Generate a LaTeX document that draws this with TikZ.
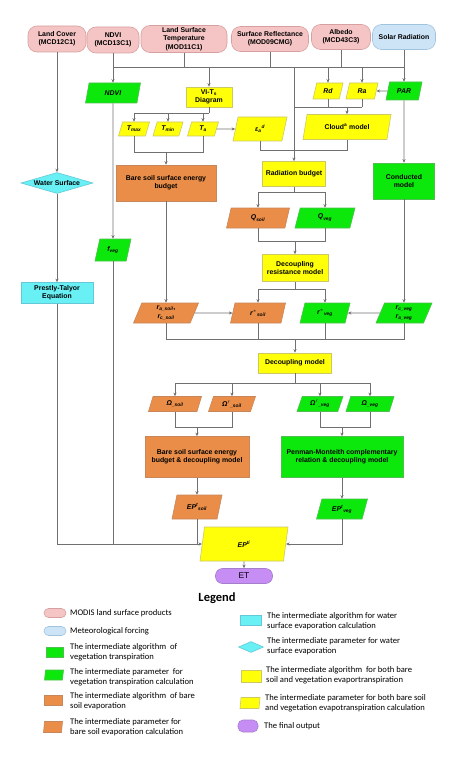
\documentclass[tikz,border=0pt]{standalone}
\usepackage{fontspec}
\usepackage{amsmath}
\setmainfont{Liberation Sans}
\newfontfamily\legfont{Carlito}
\usetikzlibrary{shapes.geometric,arrows.meta}
\definecolor{modis}{RGB}{245,196,196}
\definecolor{modisd}{RGB}{215,160,160}
\definecolor{meteo}{RGB}{205,228,246}
\definecolor{meteod}{RGB}{160,195,222}
\definecolor{veg}{RGB}{12,232,12}
\definecolor{vegd}{RGB}{80,190,80}
\definecolor{both}{RGB}{255,255,10}
\definecolor{bothd}{RGB}{205,200,100}
\definecolor{soil}{RGB}{233,141,72}
\definecolor{soild}{RGB}{200,135,90}
\definecolor{water}{RGB}{104,240,245}
\definecolor{waterd}{RGB}{100,200,215}
\definecolor{fin}{RGB}{198,142,245}
\definecolor{find}{RGB}{165,125,205}
\definecolor{linegray}{RGB}{112,112,112}
\newcommand{\pv}[1]{\textit{#1}}

\begin{document}
\begin{tikzpicture}[x=1pt, y=-1pt, >={Stealth[length=3.6pt,width=3.2pt]},
  base/.style = {font=\fontsize{6.9}{8.3}\selectfont\bfseries, align=center, inner sep=1pt, line width=0.6pt},
  prod/.style = {base, rectangle, rounded corners=9pt, fill=modis, draw=modisd},
  met/.style = {prod, fill=meteo, draw=meteod},
  box/.style = {base, rectangle, fill=#1, draw=#1d},
  para/.style = {base, trapezium, trapezium left angle=62, trapezium right angle=118,
    trapezium stretches body, fill=#1, draw=#1d},
  dia/.style = {base, diamond, aspect=3.5, inner sep=0pt, fill=water, draw=waterd},
  final/.style = {base, rectangle, rounded corners=7pt, fill=fin, draw=find},
  wire/.style = {draw=linegray, line width=0.75pt},
  legtxt/.style = {font=\legfont\fontsize{8.6}{10.4}\selectfont, align=left, anchor=west, inner sep=0pt}]
\useasboundingbox (0,0) rectangle (474,762);

% data sources
\node[prod, minimum width=58pt, minimum height=26pt] (lc) at (57,39) {Land Cover\\(MCD12C1)};
\node[prod, minimum width=52pt, minimum height=26pt] (ndvip) at (113,40) {NDVI\\(MCD13C1)};
\node[prod, minimum width=86pt, minimum height=27pt] (lst) at (184,39) {Land Surface\\Temperature\\(MOD11C1)};
\node[prod, minimum width=77pt, minimum height=25pt] (sr) at (270,39) {Surface Reflectance\\(MOD09CMG)};
\node[prod, minimum width=59pt, minimum height=25pt] (alb) at (341,37) {Albedo\\(MCD43C3)};
\node[met, minimum width=63pt, minimum height=25pt] (sol) at (404,37) {Solar Radiation};

% intermediate steps
\node[para=veg, minimum width=55pt, minimum height=20pt] (ndvi) at (113,93) {\pv{NDVI}};
\node[box=both, minimum width=46pt, minimum height=20pt] (vits) at (209,97) {VI-T\textsubscript{s}\\Diagram};
\node[para=both, minimum width=30pt, minimum height=16pt] (rd) at (328,91) {\pv{Rd}};
\node[para=both, minimum width=32pt, minimum height=16pt] (ra) at (362,91) {\pv{Ra}};
\node[para=veg, minimum width=36pt, minimum height=18pt] (par) at (404,91) {\pv{PAR}};
\node[para=both, minimum width=88pt, minimum height=25pt] (cloud) at (347,127) {Cloud\textsuperscript{a} model};
\node[para=both, minimum width=31pt, minimum height=14pt] (tmax) at (134,129) {$\pv{T}_{\pv{max}}$};
\node[para=both, minimum width=30pt, minimum height=14pt] (tmin) at (168,129) {$\pv{T}_{\pv{min}}$};
\node[para=both, minimum width=31pt, minimum height=14pt] (ta) at (203,129) {$\pv{T}_{\pv{a}}$};
\node[para=both, minimum width=54pt, minimum height=24pt] (eps) at (260,129) {$\pv{ε}_{\pv{a}}{}^{\pv{d}}$};
\node[box=soil, minimum width=100pt, minimum height=36pt] (bsb) at (166,183) {Bare soil surface energy\\budget};
\node[box=both, minimum width=63pt, minimum height=25pt] (rb) at (294,174) {Radiation budget};
\node[box=veg, minimum width=61pt, minimum height=36pt] (cm) at (404,181) {Conducted\\model};
\node[dia, minimum width=72pt, minimum height=21pt] (ws) at (57,183) {Water Surface};
\node[box=water, minimum width=72pt, minimum height=21pt] (pt) at (57,293) {Prestly-Talyor\\Equation};
\node[para=soil, minimum width=63pt, minimum height=20pt] (qs) at (258,218) {$\pv{Q}_{\pv{soil}}$};
\node[para=veg, minimum width=60pt, minimum height=20pt] (qv) at (325,218) {$\pv{Q}_{\pv{veg}}$};
\node[para=veg, minimum width=36pt, minimum height=22pt] (fveg) at (113,250) {$\pv{f}_{\pv{veg}}$};
\node[box=both, minimum width=66pt, minimum height=27pt] (drm) at (295,268) {Decoupling\\resistance model};
\node[para=soil, minimum width=65pt, minimum height=20pt] (ras) at (166,313) {$\pv{r}_{\pv{a\_soil}}$,\\$\pv{r}_{\pv{c\_soil}}$};
\node[para=soil, minimum width=55pt, minimum height=20pt] (rss) at (258,313) {$\pv{r}{}^{*}{}_{\pv{soil}}$};
\node[para=veg, minimum width=50pt, minimum height=20pt] (rsv) at (325,313) {$\pv{r}{}^{*}{}_{\pv{veg}}$};
\node[para=veg, minimum width=56pt, minimum height=20pt] (rcv) at (404,313) {$\pv{r}_{\pv{c\_veg}}$\\$\pv{r}_{\pv{a\_veg}}$};
\node[box=both, minimum width=73pt, minimum height=20pt] (dm) at (295,363) {Decoupling model};
\node[para=soil, minimum width=53pt, minimum height=15pt] (os) at (175,404) {$\pv{Ω}_{\pv{\_soil}}$};
\node[para=soil, minimum width=47pt, minimum height=15pt] (ops) at (232,404) {$\pv{Ω}'{}_{\pv{\_soil}}$};
\node[para=veg, minimum width=46pt, minimum height=15pt] (opv) at (320,404) {$\pv{Ω}'{}_{\pv{\_veg}}$};
\node[para=veg, minimum width=48pt, minimum height=15pt] (ov) at (370,404) {$\pv{Ω}_{\pv{\_veg}}$};
\node[box=soil, minimum width=104pt, minimum height=41pt] (bsd) at (197,457) {Bare soil surface energy\\budget \& decoupling model};
\node[box=veg, minimum width=122pt, minimum height=41pt] (pm) at (342,457) {Penman-Monteith complementary\\relation \& decoupling model};
\node[para=soil, minimum width=50pt, minimum height=24pt] (epsoil) at (197,507) {$\pv{EP}{}^{\pv{t}}{}_{\pv{soil}}$};
\node[para=veg, minimum width=51pt, minimum height=20pt] (epveg) at (342,509) {$\pv{EP}{}^{\pv{t}}{}_{\pv{veg}}$};
\node[para=both, minimum width=88pt, minimum height=34pt] (ep) at (244,544) {$\pv{EP}^{\pv{ti}}$};
\node[final, minimum width=57pt, minimum height=15pt, font=\fontsize{8.5}{9}\selectfont] (et) at (244,576) {ET};

% buses
\coordinate (bus) at (0,67);
\coordinate (rmerge) at (0,107);
\coordinate (tbus) at (0,113);
\coordinate (cbus) at (0,150);
\coordinate (sbus) at (0,152);
\coordinate (qbus) at (0,192);
\coordinate (dbus) at (0,241);
\coordinate (rbus) at (0,289);
\coordinate (mbus) at (0,339);
\coordinate (obus) at (0,383);
\coordinate (ebus) at (0,427);

% connectors
\draw[wire,->] (lc) -- (ws);
\draw[wire,->] (ws) -- (pt);
\draw[wire,->] (pt) |- (ep);
\draw[wire] (lst) -- (lst |- bus);
\draw[wire] (sr) -- (sr |- bus);
\draw[wire] (alb) -- (alb |- bus);
\draw[wire] (ndvip |- bus) -- (sol |- bus);
\draw[wire,->] (ndvip) -- (ndvi);
\draw[wire,->] (sol) -- (par);
\draw[wire,->] (vits |- bus) -- (vits);
\draw[wire,->] (rd |- bus) -- (rd);
\draw[wire,->] (ra |- bus) -- (ra);
\draw[wire,->] (rb |- bus) -- (rb);
\draw[wire,->] (par) -- (ra);
\draw[wire,->] (par) -- (cm);
\draw[wire] (rd) -- (rd |- rmerge);
\draw[wire] (ra) -- (ra |- rmerge);
\draw[wire] (rb |- rmerge) -- (ra |- rmerge);
\draw[wire,->] (cloud |- rmerge) -- (cloud);
\draw[wire] (vits) -- (vits |- tbus);
\draw[wire] (tmax |- tbus) -- (vits |- tbus);
\foreach \t in {tmax,tmin,ta}
  \draw[wire,->] (\t |- tbus) -- (\t);
\draw[wire,->] (ta) -- (eps);
\draw[wire] (tmax) |- (ta |- sbus) -- (ta);
\draw[wire,->] (bsb |- sbus) -- (bsb);
\draw[wire] (eps) |- (cloud |- cbus) -- (cloud);
\draw[wire] (rb) -- (rb |- qbus);
\draw[wire,->] (rb |- qbus) -| (qs);
\draw[wire,->] (rb |- qbus) -| (qv);
\draw[wire] (qs) |- (qv |- dbus) -- (qv);
\draw[wire,->] (drm |- dbus) -- (drm);
\draw[wire] (drm) -- (drm |- rbus);
\draw[wire,->] (drm |- rbus) -| (rss);
\draw[wire,->] (drm |- rbus) -| (rsv);
\draw[wire,->] (ndvi) -- (fveg);
\draw[wire,->] (bsb) -- (ras);
\draw[wire,->] (cm) -- (rcv);
\draw[wire,->] (ras) -- (rss);
\draw[wire,->] (rcv) -- (rsv);
\draw[wire] (ras) |- (rcv |- mbus) -- (rcv);
\draw[wire] (rss) -- (rss |- mbus);
\draw[wire] (rsv) -- (rsv |- mbus);
\draw[wire,->] (dm |- mbus) -- (dm);
\draw[wire] (dm) -- (dm |- obus);
\draw[wire] (os |- obus) -- (ov |- obus);
\foreach \o in {os,ops,opv,ov}
  \draw[wire,->] (\o |- obus) -- (\o);
\draw[wire] (os) |- (ops |- ebus) -- (ops);
\draw[wire,->] (bsd |- ebus) -- (bsd);
\draw[wire] (opv) |- (ov |- ebus) -- (ov);
\draw[wire,->] (pm |- ebus) -- (pm);
\draw[wire,->] (bsd) -- (epsoil);
\draw[wire,->] (pm) -- (epveg);
\draw[wire] (fveg) -- (fveg |- ep);
\draw[wire] (epsoil) -- (epsoil |- ep);
\draw[wire,->] (epveg) |- (ep);
\draw[wire,->] (ep) -- (et);

% legend
\node[font=\legfont\bfseries\fontsize{12.5}{14}\selectfont] (legend) at (217,598) {Legend};
\node[prod, rounded corners=4.5pt, minimum width=22pt, minimum height=9pt] (k1) at (55,613) {};
\node[met, rounded corners=4.5pt, minimum width=22pt, minimum height=9pt] (k2) at (55,631) {};
\node[box=veg, minimum width=17pt, minimum height=10pt] (k3) at (55,652) {};
\node[para=veg, minimum width=19pt, minimum height=10pt] (k4) at (54,675) {};
\node[box=soil, minimum width=18pt, minimum height=10pt] (k5) at (53,700) {};
\node[para=soil, minimum width=19pt, minimum height=11pt] (k6) at (53,727) {};
\node[box=water, minimum width=21pt, minimum height=10pt] (k7) at (251,620) {};
\node[dia, minimum width=25pt, minimum height=11pt] (k8) at (251,647) {};
\node[box=both, minimum width=20pt, minimum height=12pt] (k9) at (251,676) {};
\node[para=both, minimum width=20pt, minimum height=11pt] (k10) at (250,703) {};
\node[final, rounded corners=5pt, minimum width=20pt, minimum height=12pt] (k11) at (248,726) {};
\node[legtxt] (t1) at (70,613) {MODIS land surface products};
\node[legtxt] (t2) at (70,631) {Meteorological forcing};
\node[legtxt] (t3) at (70,652) {The intermediate algorithm\ \ of\\vegetation transpiration};
\node[legtxt] (t4) at (70,677) {The intermediate parameter\ \ for\\vegetation transpiration calculation};
\node[legtxt] (t5) at (70,701) {The intermediate algorithm\ \ of bare\\soil evaporation};
\node[legtxt] (t6) at (70,727) {The intermediate parameter for\\bare soil evaporation calculation};
\node[legtxt] (t7) at (267,621) {The intermediate algorithm for water\\surface evaporation calculation};
\node[legtxt] (t8) at (267,646) {The intermediate parameter for water\\surface evaporation};
\node[legtxt] (t9) at (266,675) {The intermediate algorithm\ \ for both bare\\soil and vegetation evaportranspiration};
\node[legtxt] (t10) at (265,703) {The intermediate parameter for both bare soil\\and vegetation evapotranspiration calculation};
\node[legtxt] (t11) at (264,726) {The final output};
\end{tikzpicture}
\end{document}
